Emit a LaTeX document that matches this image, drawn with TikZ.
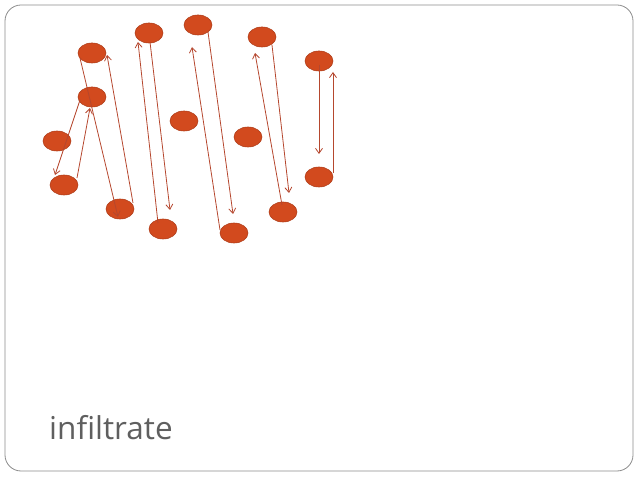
\documentclass[tikz,border=0pt]{standalone}
\usepackage{fontspec}
\setmainfont{Open Sans}
\usetikzlibrary{shapes.geometric,arrows.meta,calc}
\definecolor{dotfill}{HTML}{D24A1E}
\definecolor{dotedge}{HTML}{B03E1A}
\definecolor{arrowcol}{HTML}{B5472E}
\definecolor{framecol}{HTML}{8C8C8C}
\definecolor{textcol}{HTML}{5F5F5F}
\begin{document}
\begin{tikzpicture}[x=1pt,y=-1pt,
  dot/.style={ellipse,fill=dotfill,draw=dotedge,line width=0.6pt,minimum width=28pt,minimum height=20pt,inner sep=0pt},
  link/.style={draw=arrowcol,line width=0.8pt,-{Straight Barb[length=5pt,width=7pt]}}]
\useasboundingbox (0,0) rectangle (638,478);
\draw[framecol,line width=0.8pt,rounded corners=16pt] (5,5) rectangle (633,471);
\node[dot] (A) at (92,53) {};
\node[dot] (B) at (92,97) {};
\node[dot] (C) at (57,141) {};
\node[dot] (D) at (64,185) {};
\node[dot] (E) at (120,209) {};
\node[dot] (F) at (149,33) {};
\node[dot] (G) at (163,229) {};
\node[dot] (H) at (198,25) {};
\node[dot] (I) at (184,121) {};
\node[dot] (J) at (234,233) {};
\node[dot] (K) at (262,37) {};
\node[dot] (L) at (248,137) {};
\node[dot] (M) at (283,212) {};
\node[dot] (N) at (319,61) {};
\node[dot] (O) at (319,177) {};
\draw[link] ($(B)+(-12,3)$) -- ($(D)+(-9,-10)$);
\draw[link] ($(D)+(13,-7)$) -- ($(B)+(-2,11)$);
\draw[link] ($(A)+(-12,5)$) -- ($(E)+(-2,8)$);
\draw[link] ($(E)+(13,-6)$) -- ($(A)+(15,2)$);
\draw[link] ($(F)+(1,9)$) -- ($(G)+(7,-19)$);
\draw[link] ($(G)+(-5,-6)$) -- ($(F)+(-11,9)$);
\draw[link] ($(H)+(10,7)$) -- ($(J)+(-1,-19)$);
\draw[link] ($(J)+(-14,-3)$) -- ($(H)+(-6,22)$);
\draw[link] ($(K)+(10,8)$) -- ($(M)+(6,-19)$);
\draw[link] ($(M)+(-1,-7)$) -- ($(K)+(-7,16)$);
\draw[link] ($(N)+(0,4)$) -- ($(O)+(0,-23)$);
\draw[link] ($(O)+(14,-4)$) -- ($(N)+(14,11)$);
\node[anchor=base west,inner sep=0pt,text=textcol,font=\fontsize{31.5}{36}\selectfont] (title) at (49,440) {infiltrate};
\end{tikzpicture}
\end{document}
